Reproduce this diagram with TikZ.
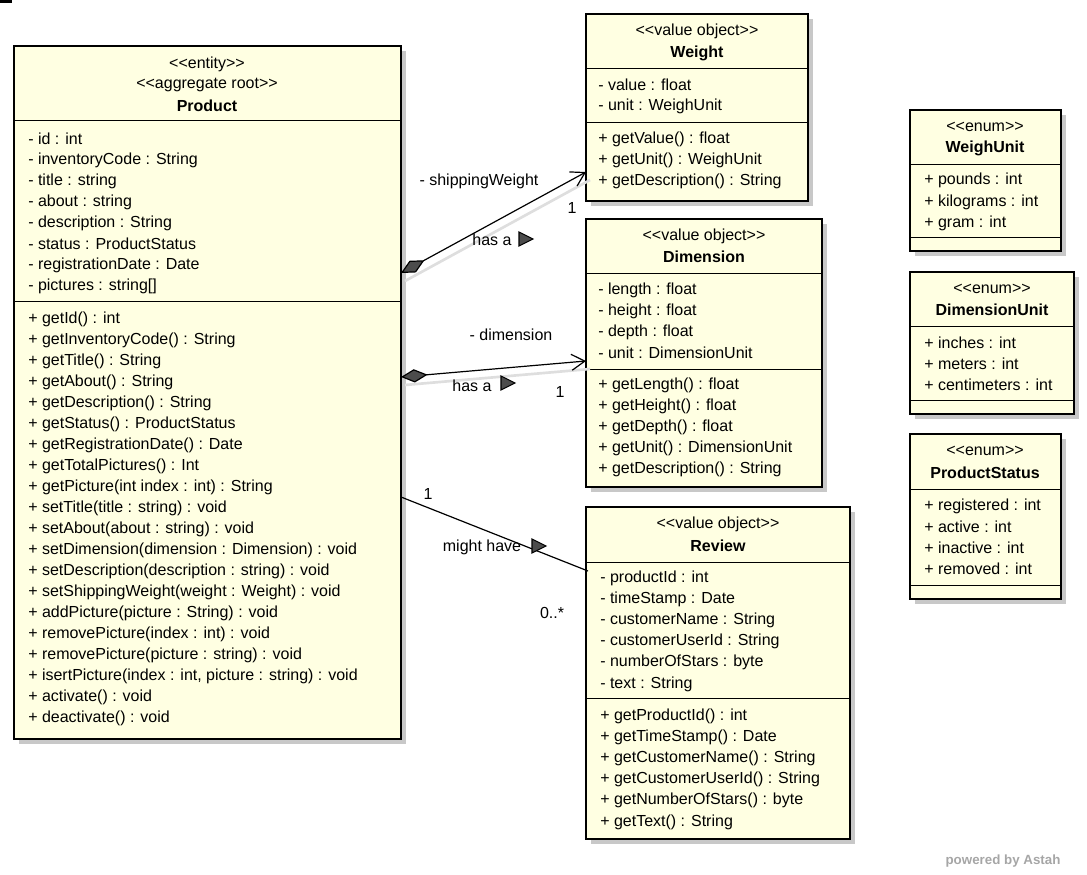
\documentclass[tikz,border=0pt]{standalone}
\usepackage{fontspec}
\setmainfont{Liberation Sans}
\usetikzlibrary{arrows.meta,fit}
\definecolor{boxfill}{HTML}{FFFFE2}
\definecolor{shad}{HTML}{C8C8C8}
\tikzset{
 x=0.75pt,y=-0.75pt,
 box/.style={draw=black,line width=2.2pt,fill=boxfill,inner sep=0pt},
 t/.style={anchor=west,font=\fontsize{12}{13}\selectfont,inner sep=0pt},
 c/.style={anchor=center,font=\fontsize{12}{13}\selectfont,inner sep=0pt},
 b/.style={c,font=\fontsize{12}{13}\selectfont\bfseries},
 dv/.style={line width=0.6pt},
 assoc/.style={line width=0.9pt},
 tri/.style={fill=gray!60!black,draw=black,line width=0.8pt},
}
\newcommand\umlbox[5]{% name, x1,y1,x2,y2
 \fill[shad] (#2+5,#3+5) rectangle (#4+5,#5+5);
 \node[box,fit={(#2,#3)(#4,#5)}] (#1) {};}
\newcommand\mln[3]{\node[t] at (#1,#2) {#3};}
\newcommand\tril[2]{\path[tri] (#1,#2-7) -- (#1+14,#2) -- (#1,#2+7) -- cycle;}
\newcommand\st[1]{<\kern0pt<#1>\kern0pt>}
\begin{document}
\begin{tikzpicture}
\useasboundingbox (0,0) rectangle (1087,874);
\fill (0,0) rectangle (12,3);
% Product
\umlbox{product}{14}{46}{401}{739}
\node[c] at (207,64) {\st{entity}};
\node[c] at (207,85) {\st{aggregate root}};
\node[b] at (207,106) {Product};
\draw[dv] (14,120) -- (401,120);
\draw[dv] (14,301) -- (401,301);
\foreach \s [count=\i from 0] in {- id : int,- inventoryCode : String,- title : string,- about : string,- description : String,- status : ProductStatus,- registrationDate : Date,- pictures : string[]}
 \node[t] at (28,139+21*\i) {\s};
\foreach \s [count=\i from 0] in {+ getId() : int,+ getInventoryCode() : String,+ getTitle() : String,+ getAbout() : String,+ getDescription() : String,+ getStatus() : ProductStatus,+ getRegistrationDate() : Date,+ getTotalPictures() : Int,+ getPicture(int index : int) : String,+ setTitle(title : string) : void,+ setAbout(about : string) : void,+ setDimension(dimension : Dimension) : void,+ setDescription(description : string) : void,+ setShippingWeight(weight : Weight) : void,+ addPicture(picture : String) : void,+ removePicture(index : int) : void,+ removePicture(picture : string) : void,{+ isertPicture(index : int, picture : string) : void},+ activate() : void,+ deactivate() : void}
 \node[t] at (28,319+21*\i) {\s};
% Weight
\umlbox{weight}{586}{14}{808}{201}
\node[c] at (697,31) {\st{value object}};
\node[b] at (697,53) {Weight};
\draw[dv] (586,68) -- (808,68);
\draw[dv] (586,122) -- (808,122);
\mln{598}{85}{- value : float}
\mln{598}{106}{- unit : WeighUnit}
\mln{598}{139}{+ getValue() : float}
\mln{598}{160}{+ getUnit() : WeighUnit}
\mln{598}{181}{+ getDescription() : String}
% Dimension
\umlbox{dimension}{586}{219}{822}{487}
\node[c] at (704,236) {\st{value object}};
\node[b] at (704,257) {Dimension};
\draw[dv] (586,273) -- (822,273);
\draw[dv] (586,369) -- (822,369);
\foreach \s [count=\i from 0] in {- length : float,- height : float,- depth : float,- unit : DimensionUnit}
 \node[t] at (598,290+21*\i) {\s};
\foreach \s [count=\i from 0] in {+ getLength() : float,+ getHeight() : float,+ getDepth() : float,+ getUnit() : DimensionUnit,+ getDescription() : String}
 \node[t] at (598,385+21*\i) {\s};
% Review
\umlbox{review}{586}{507}{850}{839}
\node[c] at (718,524) {\st{value object}};
\node[b] at (718,546) {Review};
\draw[dv] (586,562) -- (850,562);
\draw[dv] (586,698) -- (850,698);
\foreach \s [count=\i from 0] in {- productId : int,- timeStamp : Date,- customerName : String,- customerUserId : String,- numberOfStars : byte,- text : String}
 \node[t] at (600,578+21.2*\i) {\s};
\foreach \s [count=\i from 0] in {+ getProductId() : int,+ getTimeStamp() : Date,+ getCustomerName() : String,+ getCustomerUserId() : String,+ getNumberOfStars() : byte,+ getText() : String}
 \node[t] at (600,716+21.2*\i) {\s};
% WeighUnit
\umlbox{weighunit}{910}{110}{1061}{251}
\node[c] at (985,127) {\st{enum}};
\node[b] at (985,148) {WeighUnit};
\draw[dv] (910,164) -- (1061,164);
\draw[dv] (910,237) -- (1061,237);
\mln{924}{180}{+ pounds : int}
\mln{924}{202}{+ kilograms : int}
\mln{924}{223}{+ gram : int}
% DimensionUnit
\umlbox{dimunit}{910}{272}{1074}{414}
\node[c] at (992,289) {\st{enum}};
\node[b] at (992,310) {DimensionUnit};
\draw[dv] (910,326) -- (1074,326);
\draw[dv] (910,400) -- (1074,400);
\mln{924}{343}{+ inches : int}
\mln{924}{364}{+ meters : int}
\mln{924}{385}{+ centimeters : int}
% ProductStatus
\umlbox{pstatus}{910}{434}{1061}{599}
\node[c] at (985,451) {\st{enum}};
\node[b] at (985,473) {ProductStatus};
\draw[dv] (910,489) -- (1061,489);
\draw[dv] (910,585) -- (1061,585);
\foreach \s [count=\i from 0] in {+ registered : int,+ active : int,+ inactive : int,+ removed : int}
 \node[t] at (924,506+21*\i) {\s};
% connectors
\coordinate (p1) at (401,273); \coordinate (w1) at (586,172);
\coordinate (p2) at (401,377); \coordinate (d1) at (586,361);
\coordinate (p3) at (401,497); \coordinate (r1) at (588,571);
\draw[shad!60,line width=2pt] (405,281) -- (590,180);
\draw[shad!60,line width=2pt] (405,385) -- (590,369);
\draw[assoc,{Diamond[fill=gray!60!black,length=20pt,width=10pt]}-{Straight Barb[length=10pt,width=12pt]}] (p1) -- (w1);
\draw[assoc,{Diamond[fill=gray!60!black,length=20pt,width=10pt]}-{Straight Barb[length=10pt,width=12pt]}] (p2) -- (d1);
\draw[assoc] (p3) -- (r1);
\node[c] at (479,181) {- shippingWeight};
\node[c] at (572,208) {1};
\node[c] at (492,240) {has a}; \tril{519}{239}
\node[c] at (511,335) {- dimension};
\node[c] at (472,386) {has a}; \tril{501}{383}
\node[c] at (560,392) {1};
\node[c] at (428,494) {1};
\node[c] at (482,547) {might have}; \tril{532}{546}
\node[c] at (552,613) {0..*};
\node[c,text=gray!70,font=\fontsize{10}{12}\selectfont\bfseries] at (1003,861) {powered by Astah};
\end{tikzpicture}
\end{document}
